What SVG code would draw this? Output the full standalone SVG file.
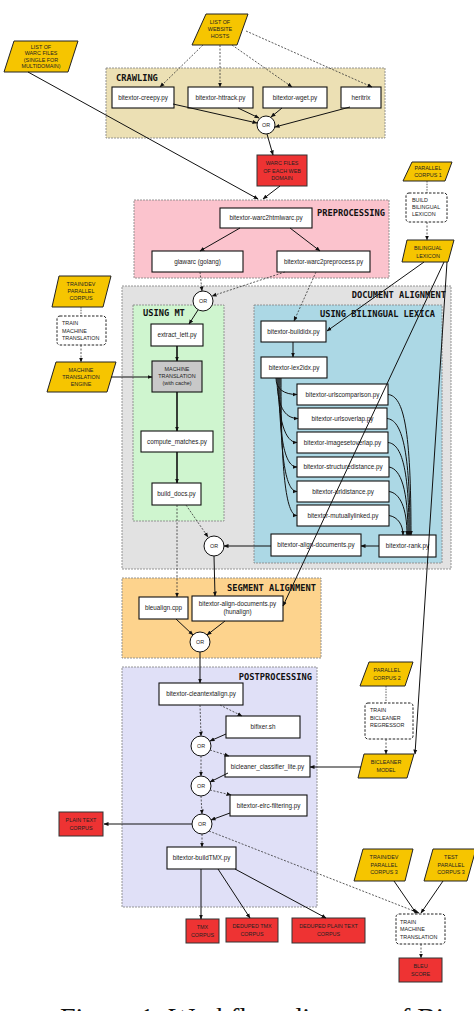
<svg xmlns="http://www.w3.org/2000/svg" width="474" height="1011" viewBox="0 0 474 1011">
<defs>
<marker id="a" viewBox="0 0 10 10" refX="9" refY="5" markerWidth="5" markerHeight="5" markerUnits="userSpaceOnUse" orient="auto"><path d="M0,1 L10,5 L0,9 z" fill="#111"/></marker>
<style>
.cl{stroke:#8a8a8a;stroke-width:0.9;stroke-dasharray:2 1}
.n{fill:#fff;stroke:#111;stroke-width:1.1}
.g{fill:#c8c8c8;stroke:#111;stroke-width:1.1}
.y{fill:#f6c500;stroke:#222;stroke-width:1}
.r{fill:#ee3333;stroke:#333;stroke-width:1}
.d{fill:#fff;stroke:#222;stroke-width:1;stroke-dasharray:2.5 1.5}
.o{fill:#fff;stroke:#111;stroke-width:1}
.t{font-family:"Liberation Sans",Arial,sans-serif;font-size:6.3px;text-anchor:middle;fill:#222}
.c{font-family:"Liberation Sans",Arial,sans-serif;font-size:5.4px;text-anchor:middle;fill:#222}
.cs{font-family:"Liberation Sans",Arial,sans-serif;font-size:5.4px;fill:#222}
.lab{font-family:"DejaVu Sans Mono",monospace;font-weight:bold;font-size:8.7px;fill:#111}
.e{fill:none;stroke:#111;stroke-width:1;marker-end:url(#a)}
.et{fill:none;stroke:#111;stroke-width:1.6;marker-end:url(#a)}
.ed{fill:none;stroke:#333;stroke-width:0.8;stroke-dasharray:2 1.5;marker-end:url(#a)}
.dl{fill:none;stroke:#333;stroke-width:0.8;stroke-dasharray:1.5 1.2}
.cap{font-family:"Liberation Serif","Times New Roman",serif;font-size:28px;fill:#111}
</style>
</defs>
<rect width="474" height="1011" fill="#fff"/>

<g id="clusters">
<g id="crawling"><rect class="cl" x="106" y="68" width="279" height="70" fill="#ece0b4"/><text class="lab" x="116" y="81">CRAWLING</text></g>
<g id="preprocessing"><rect class="cl" x="134" y="200" width="255" height="78" fill="#fbc3cd"/><text class="lab" x="385" y="216" text-anchor="end">PREPROCESSING</text></g>
<g id="docalign"><rect class="cl" x="122" y="286" width="329" height="283" fill="#e2e2e2"/><text class="lab" x="446" y="298" text-anchor="end">DOCUMENT ALIGNMENT</text></g>
<g id="usingmt"><rect class="cl" x="133" y="305" width="91" height="216" fill="#cff5cf"/><text class="lab" x="143" y="316">USING MT</text></g>
<g id="lexica"><rect class="cl" x="254" y="305" width="188" height="258" fill="#acd8e5"/><text class="lab" x="435" y="317" text-anchor="end">USING BILINGUAL LEXICA</text></g>
<g id="segalign"><rect class="cl" x="122" y="578" width="199" height="80" fill="#fdd38d"/><text class="lab" x="316" y="591" text-anchor="end">SEGMENT ALIGNMENT</text></g>
<g id="postproc"><rect class="cl" x="122" y="667" width="195" height="240" fill="#e0e0f7"/><text class="lab" x="312" y="680" text-anchor="end">POSTPROCESSING</text></g>
</g>

<g id="hosts"><path class="y" d="M206,14 L248,14 L237,45 L192,45 Z"/><text class="c" x="220" y="24">LIST OF</text><text class="c" x="220" y="31">WEBSITE</text><text class="c" x="220" y="38">HOSTS</text></g>
<g id="warclist"><path class="y" d="M14,41 L78,41 L68,72 L4,72 Z"/><text class="c" x="41" y="48.5">LIST OF</text><text class="c" x="41" y="55">WARC FILES</text><text class="c" x="41" y="61.5">(SINGLE FOR</text><text class="c" x="41" y="68">MULTIDOMAIN)</text></g>
<g id="creepy"><rect class="n" x="112" y="87" width="62" height="21"/><text class="t" x="143" y="100">bitextor-creepy.py</text></g>
<g id="httrack"><rect class="n" x="188" y="87" width="65" height="21"/><text class="t" x="220.5" y="100">bitextor-httrack.py</text></g>
<g id="wget"><rect class="n" x="263" y="87" width="64" height="21"/><text class="t" x="295" y="100">bitextor-wget.py</text></g>
<g id="heritrix"><rect class="n" x="341" y="87" width="40" height="21"/><text class="t" x="361" y="100">heritrix</text></g>
<g id="or1"><circle class="o" cx="266" cy="125" r="9"/><text class="c" x="266" y="127">OR</text></g>
<g id="warcfiles"><rect class="r" x="257" y="155" width="50" height="31"/><text class="c" x="282" y="165">WARC FILES</text><text class="c" x="282" y="172.5">OF EACH WEB</text><text class="c" x="282" y="180">DOMAIN</text></g>

<g id="htmlwarc"><rect class="n" x="220" y="208" width="92" height="20"/><text class="t" x="266" y="220">bitextor-warc2htmlwarc.py</text></g>
<g id="giawarc"><rect class="n" x="152" y="251" width="91" height="21"/><text class="t" x="197.5" y="263.5">giawarc (golang)</text></g>
<g id="w2p"><rect class="n" x="277" y="251" width="93" height="21"/><text class="t" x="323.5" y="263.5">bitextor-warc2preprocess.py</text></g>

<g id="pc1"><path class="y" d="M412,162 L452,162 L445,181 L403,181 Z"/><text class="c" x="428" y="170">PARALLEL</text><text class="c" x="428" y="177">CORPUS 1</text></g>
<g id="buildlex"><rect class="d" x="406" y="193" width="41" height="29" rx="3"/><text class="cs" x="412" y="202">BUILD</text><text class="cs" x="412" y="209">BILINGUAL</text><text class="cs" x="412" y="216">LEXICON</text></g>
<g id="lexicon"><path class="y" d="M407,240 L454,240 L448,262 L402,262 Z"/><text class="c" x="428" y="250">BILINGUAL</text><text class="c" x="428" y="257.5">LEXICON</text></g>

<g id="tdcorpus"><path class="y" d="M59,276 L111,276 L103,307 L52,307 Z"/><text class="c" x="81" y="286">TRAIN/DEV</text><text class="c" x="81" y="293">PARALLEL</text><text class="c" x="81" y="300">CORPUS</text></g>
<g id="trainmt1"><rect class="d" x="57" y="316" width="49" height="29" rx="3"/><text class="cs" x="62" y="325">TRAIN</text><text class="cs" x="62" y="332.5">MACHINE</text><text class="cs" x="62" y="340">TRANSLATION</text></g>
<g id="mtengine"><path class="y" d="M56,362 L116,362 L107,392 L47,392 Z"/><text class="c" x="81" y="372">MACHINE</text><text class="c" x="81" y="379">TRANSLATION</text><text class="c" x="81" y="386">ENGINE</text></g>

<g id="or2"><circle class="o" cx="203" cy="301" r="10"/><text class="c" x="203" y="303">OR</text></g>
<g id="extract"><rect class="n" x="151" y="324" width="52" height="22"/><text class="t" x="177" y="337">extract_lett.py</text></g>
<g id="mt"><rect class="g" x="152" y="361" width="50" height="31"/><text class="c" x="177" y="371">MACHINE</text><text class="c" x="177" y="378">TRANSLATION</text><text class="c" x="177" y="385">(with cache)</text></g>
<g id="compute"><rect class="n" x="141" y="431" width="72" height="21"/><text class="t" x="177" y="443.5">compute_matches.py</text></g>
<g id="builddocs"><rect class="n" x="152" y="483" width="49" height="22"/><text class="t" x="176.5" y="496">build_docs.py</text></g>

<g id="buildidx"><rect class="n" x="261" y="321" width="65" height="21"/><text class="t" x="293.5" y="333.5">bitextor-buildidx.py</text></g>
<g id="lex2idx"><rect class="n" x="261" y="357" width="66" height="21"/><text class="t" x="294" y="369.5">bitextor-lex2idx.py</text></g>
<g id="f1"><rect class="n" x="297" y="384" width="91" height="21"/><text class="t" x="342.5" y="396.5">bitextor-urlscomparison.py</text></g>
<g id="f2"><rect class="n" x="298" y="408" width="89" height="21"/><text class="t" x="342.5" y="420.5">bitextor-urlsoverlap.py</text></g>
<g id="f3"><rect class="n" x="297" y="432" width="91" height="21"/><text class="t" x="342.5" y="444.5">bitextor-imagesetoverlap.py</text></g>
<g id="f4"><rect class="n" x="297" y="457" width="92" height="20"/><text class="t" x="343" y="469">bitextor-structuredistance.py</text></g>
<g id="f5"><rect class="n" x="297" y="481" width="92" height="21"/><text class="t" x="343" y="493.5">bitextor-urldistance.py</text></g>
<g id="f6"><rect class="n" x="297" y="505" width="92" height="21"/><text class="t" x="343" y="517.5">bitextor-mutuallylinked.py</text></g>
<g id="rank"><rect class="n" x="379" y="535" width="57" height="22"/><text class="t" x="407.5" y="548">bitextor-rank.py</text></g>
<g id="aligndocs"><rect class="n" x="271" y="534" width="90" height="22"/><text class="t" x="316" y="547">bitextor-align-documents.py</text></g>
<g id="or3"><circle class="o" cx="214" cy="546" r="10"/><text class="c" x="214" y="548">OR</text></g>

<g id="bleualign"><rect class="n" x="139" y="597" width="49" height="22"/><text class="t" x="163.5" y="610">bleualign.cpp</text></g>
<g id="hunalign"><rect class="n" x="192" y="596" width="91" height="25"/><text class="t" x="237.5" y="606">bitextor-align-documents.py</text><text class="t" x="237.5" y="614">(hunalign)</text></g>
<g id="or4"><circle class="o" cx="200" cy="642" r="10"/><text class="c" x="200" y="644">OR</text></g>

<g id="cleantext"><rect class="n" x="159" y="683" width="84" height="22"/><text class="t" x="201" y="696">bitextor-cleantextalign.py</text></g>
<g id="bifixer"><rect class="n" x="226" y="716" width="74" height="22"/><text class="t" x="263" y="729">bifixer.sh</text></g>
<g id="or5"><circle class="o" cx="201" cy="746" r="10"/><text class="c" x="201" y="748">OR</text></g>
<g id="bicleaner"><rect class="n" x="225" y="756" width="85" height="21"/><text class="t" x="267.5" y="768.5">bicleaner_classifier_lite.py</text></g>
<g id="or6"><circle class="o" cx="201" cy="786" r="10"/><text class="c" x="201" y="788">OR</text></g>
<g id="elrc"><rect class="n" x="230" y="795" width="77" height="21"/><text class="t" x="268.5" y="807.5">bitextor-elrc-filtering.py</text></g>
<g id="or7"><circle class="o" cx="202" cy="824" r="10"/><text class="c" x="202" y="826">OR</text></g>
<g id="buildtmx"><rect class="n" x="167" y="847" width="69" height="22"/><text class="t" x="201.5" y="860">bitextor-buildTMX.py</text></g>

<g id="pc2"><path class="y" d="M369,662 L413,662 L405,686 L360,686 Z"/><text class="c" x="387" y="672">PARALLEL</text><text class="c" x="387" y="680">CORPUS 2</text></g>
<g id="trainbic"><rect class="d" x="365" y="703" width="48" height="36" rx="3"/><text class="cs" x="370" y="712">TRAIN</text><text class="cs" x="370" y="719.5">BICLEANER</text><text class="cs" x="370" y="727">REGRESSOR</text></g>
<g id="bicmodel"><path class="y" d="M364,754 L414,754 L407,778 L358,778 Z"/><text class="c" x="386" y="764">BICLEANER</text><text class="c" x="386" y="772">MODEL</text></g>

<g id="plaintext"><rect class="r" x="59" y="812" width="44" height="24"/><text class="c" x="81" y="822">PLAIN TEXT</text><text class="c" x="81" y="830">CORPUS</text></g>
<g id="tmx"><rect class="r" x="186" y="919" width="33" height="24"/><text class="c" x="202.5" y="929">TMX</text><text class="c" x="202.5" y="937">CORPUS</text></g>
<g id="dtmx"><rect class="r" x="226" y="918" width="52" height="24"/><text class="c" x="252" y="928">DEDUPED TMX</text><text class="c" x="252" y="936">CORPUS</text></g>
<g id="dplain"><rect class="r" x="292" y="918" width="73" height="25"/><text class="c" x="328.5" y="928">DEDUPED PLAIN TEXT</text><text class="c" x="328.5" y="936">CORPUS</text></g>

<g id="pc3"><path class="y" d="M363,849 L413,849 L405,881 L354,881 Z"/><text class="c" x="384" y="859">TRAIN/DEV</text><text class="c" x="384" y="867">PARALLEL</text><text class="c" x="384" y="874">CORPUS 3</text></g>
<g id="test3"><path class="y" d="M433,849 L476,849 L467,881 L424,881 Z"/><text class="c" x="451" y="859">TEST</text><text class="c" x="451" y="867">PARALLEL</text><text class="c" x="451" y="874">CORPUS 3</text></g>
<g id="trainmt2"><rect class="d" x="396" y="914" width="49" height="30" rx="3"/><text class="cs" x="400" y="924">TRAIN</text><text class="cs" x="400" y="931">MACHINE</text><text class="cs" x="400" y="938.5">TRANSLATION</text></g>
<g id="bleu"><rect class="r" x="399" y="958" width="43" height="24"/><text class="c" x="420.5" y="968">BLEU</text><text class="c" x="420.5" y="976">SCORE</text></g>

<g id="connectors">
<path class="ed" d="M203,45 L160,87"/>
<path class="ed" d="M220,45 L220,87"/>
<path class="ed" d="M232,45 L292,87"/>
<path class="ed" d="M246,31 L372,87"/>
<path class="e" d="M173,104 L257,123"/>
<path class="e" d="M238,108 L259,118"/>
<path class="e" d="M282,108 L271,117"/>
<path class="e" d="M350,107 L275,127"/>
<path class="e" d="M267,134 L273,155"/>
<path class="e" d="M28,72 L258,199"/>
<path class="e" d="M280,186 L263,199"/>
<path class="e" d="M240,228 L200,251"/>
<path class="e" d="M290,228 L320,251"/>
<path class="ed" d="M200,272 L202,291"/>
<path class="ed" d="M285,272 L212,296"/>
<path class="ed" d="M316,272 L294,321"/>
<path class="e" d="M424,262 L327,331"/>
<path class="e" d="M444,262 L283,606"/>
<path class="e" d="M447,262 L415,754"/>
<path class="dl" d="M427,181 L427,193"/>
<path class="ed" d="M427,222 L427,240"/>
<path class="dl" d="M81,307 L81,316"/>
<path class="ed" d="M81,345 L81,362"/>
<path class="e" d="M111,377 L152,377"/>
<path class="e" d="M198,310 L189,324"/>
<path class="et" d="M177,346 L177,361"/>
<path class="et" d="M177,392 L177,431"/>
<path class="et" d="M177,452 L177,483"/>
<path class="ed" d="M186,505 L208,537"/>
<path class="ed" d="M177,505 L177,597"/>
<path class="e" d="M293,342 L293,357"/>
<path class="e" d="M276,378 C276,389 284,394.5 297,394.5"/>
<path class="e" d="M277,378 C277,405 284,418.5 298,418.5"/>
<path class="e" d="M278,378 C278,420 285,442.5 297,442.5"/>
<path class="e" d="M279,378 C279,440 285,467 297,467"/>
<path class="e" d="M280,378 C280,460 286,491.5 297,491.5"/>
<path class="e" d="M281,378 C281,480 287,515.5 297,515.5"/>
<path class="e" d="M388,394.5 C404,396 411,430 411,535"/>
<path class="e" d="M387,418.5 C402,420 410,450 410,535"/>
<path class="e" d="M388,442.5 C402,444 409,470 409,535"/>
<path class="e" d="M389,467 C401,469 408,490 408,535"/>
<path class="e" d="M389,491.5 C400,493 407,508 407,535"/>
<path class="e" d="M389,515.5 C398,517 403,525 403,535"/>
<path class="e" d="M379,546 L361,546"/>
<path class="e" d="M271,546 L224,546"/>
<path class="e" d="M214,556 L215,596"/>
<path class="e" d="M176,619 L193,635"/>
<path class="e" d="M225,621 L207,635"/>
<path class="e" d="M200,652 L200,683"/>
<path class="ed" d="M200,705 L201,736"/>
<path class="ed" d="M220,705 L242,716"/>
<path class="e" d="M226,734 L210,741"/>
<path class="ed" d="M201,756 L201,776"/>
<path class="ed" d="M210,750 L229,756"/>
<path class="e" d="M228,773 L210,782"/>
<path class="e" d="M361,767 L310,767"/>
<path class="ed" d="M201,796 L202,814"/>
<path class="ed" d="M210,790 L231,795"/>
<path class="e" d="M230,813 L211,820"/>
<path class="e" d="M192,824 L104,824"/>
<path class="ed" d="M202,834 L202,847"/>
<path class="ed" d="M209,831 L419,913"/>
<path class="e" d="M201,869 L201,919"/>
<path class="e" d="M218,869 L250,918"/>
<path class="e" d="M235,869 L326,918"/>
<path class="e" d="M394,881 L416,913"/>
<path class="e" d="M443,881 L421,913"/>
<path class="ed" d="M421,944 L421,958"/>
<path class="dl" d="M386,686 L386,703"/>
<path class="ed" d="M386,739 L386,754"/>
</g>

<text class="cap" x="60" y="1027">Figure 1: Workflow diagram of Bi</text>
</svg>
